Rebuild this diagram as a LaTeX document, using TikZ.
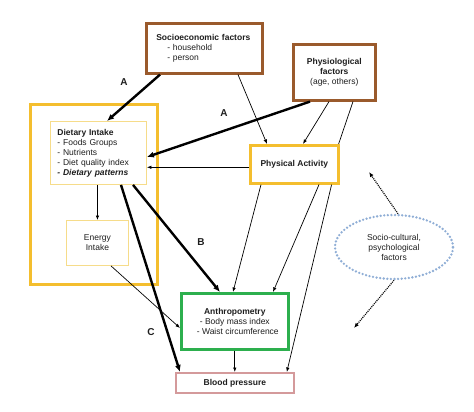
\documentclass[tikz,border=0pt]{standalone}
\usepackage{fontspec}
\setmainfont{Liberation Sans}
\usetikzlibrary{arrows.meta,shapes.geometric,calc}
\definecolor{brownb}{HTML}{9A5A2C}
\definecolor{yelb}{HTML}{F4BE2E}
\definecolor{yelthin}{HTML}{F6DC8A}
\definecolor{greenb}{HTML}{2DAF4E}
\definecolor{pinkb}{HTML}{D49A9B}
\definecolor{dotblue}{HTML}{8FAED6}
\definecolor{txt}{HTML}{1E1E1E}
\tikzset{
  x=1pt, y=-1pt,
  every node/.style={font=\fontsize{8.5}{10}\selectfont, text=txt},
  box/.style={draw, rectangle, inner sep=0pt, anchor=north west},
  thin arr/.style={draw=black, line width=0.7pt, -{Latex[length=4.5pt,width=3.5pt]}},
  thick arr/.style={draw=black, line width=2.4pt, -{Latex[length=7pt,width=6pt]}},
  plain ln/.style={draw=black, line width=0.7pt},
  dot arr/.style={draw=black, line width=1.2pt, dash pattern=on 1pt off 1pt, -{Latex[length=5pt,width=4pt]}},
  lbl/.style={font=\fontsize{10}{12}\selectfont\bfseries},
}
\begin{document}
\begin{tikzpicture}
\useasboundingbox (0,0) rectangle (474,412);
\fill[white] (0,0) rectangle (474,412);

% outer yellow box
\node[box, draw=yelb, line width=2.6pt, minimum width=127pt, minimum height=180pt] (outer) at (29,103) {};

% boxes
\node[box, draw=brownb, line width=2.6pt, minimum width=116pt, minimum height=50pt, align=left, text width=96pt] (socio) at (145,22)
  {\textbf{Socioeconomic factors}\\\hspace*{11pt}- household\\\hspace*{11pt}- person};
\node[box, draw=brownb, line width=2.6pt, minimum width=82pt, minimum height=56pt, align=center] (physio) at (292,43)
  {\textbf{Physiological}\\\textbf{factors}\\(age, others)};
\node[box, draw=yelthin, line width=0.9pt, minimum width=96pt, minimum height=63pt, align=left, text width=82pt] (diet) at (50,121)
  {\textbf{Dietary Intake}\\- Foods Groups\\- Nutrients\\- Diet quality index\\\textbf{\textit{- Dietary patterns}}};
\node[box, draw=yelthin, line width=0.9pt, minimum width=62pt, minimum height=45pt, align=center] (energy) at (66,220)
  {Energy\\Intake};
\node[box, draw=yelb, line width=2.6pt, minimum width=88pt, minimum height=38pt] (pa) at (249,144)
  {\textbf{Physical Activity}};
\node[box, draw=greenb, line width=2.6pt, minimum width=107pt, minimum height=56pt, align=center] (anthro) at (180,292)
  {\textbf{Anthropometry}\\- Body mass index\\\hspace*{6pt}- Waist circumference};
\node[box, draw=pinkb, line width=1.8pt, minimum width=118pt, minimum height=20pt] (bp) at (175,372)
  {\textbf{Blood pressure}};
\node[ellipse, draw=dotblue, line width=2.6pt, dash pattern=on 0pt off 3.6pt, line cap=round,
  minimum width=118pt, minimum height=64pt, inner sep=0pt, align=center] (ell) at (394,247)
  {Socio-cultural,\\psychological\\factors};

% connectors
\draw[thick arr] ([xshift=15pt]socio.south west) -- ([xshift=57pt]diet.north west);
\draw[thin arr] ([xshift=93pt]socio.south west) -- ([xshift=18pt]pa.north west);
\draw[thick arr] ([xshift=18pt]physio.south west) -- ([yshift=-36pt]diet.north east);
\draw[thin arr] ([xshift=37pt]physio.south west) -- ([xshift=54pt]pa.north west);
\draw[plain ln] ([xshift=61pt]physio.south west) -- ([xshift=-1pt]pa.north east);
\draw[thin arr] ([xshift=-8pt]pa.south east) -- ([xshift=-8pt]bp.north east);
\draw[thin arr] ([xshift=12pt]pa.south west) -- ([xshift=53pt]anthro.north west);
\draw[thin arr] ([xshift=70pt]pa.south west) -- ([xshift=93pt]anthro.north west);
\coordinate (paL) at ([yshift=-3pt]pa.west);
\draw[thin arr] (paL) -- (diet.east |- paL);
\draw[thin arr] (diet.south -| energy.north) -- (energy.north);
\draw[thick arr] ([xshift=83pt]diet.south west) -- ([xshift=40pt]anthro.north west);
\draw[thick arr] ([xshift=71pt]diet.south west) -- ([xshift=5pt]bp.north west);
\draw[thin arr] ([xshift=45pt]energy.south west) -- ([yshift=-36pt]anthro.north west);
\draw[thin arr] (anthro.south) -- (anthro.south |- bp.north);

\coordinate (dTop) at (369,172);
\coordinate (dBot) at (354,328);
\draw[dot arr] ([xshift=4pt]ell.north) -- (dTop);
\draw[dot arr] (ell.south) -- (dBot);

% labels
\node[lbl] (la1) at (124,82) {A};
\node[lbl] (la2) at (224,113) {A};
\node[lbl] (lb) at (201,242) {B};
\node[lbl] (lc) at (151,332) {C};
\end{tikzpicture}
\end{document}
